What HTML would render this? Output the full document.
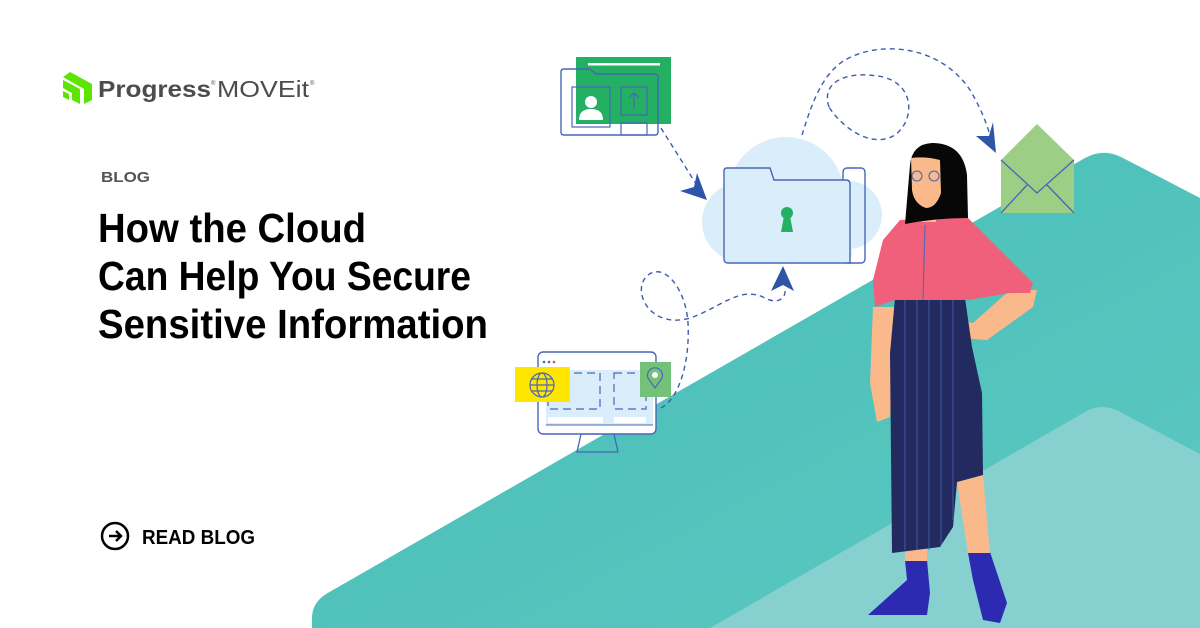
<!DOCTYPE html>
<html><head><meta charset="utf-8"><style>
html,body{margin:0;padding:0;background:#fff;}
svg{display:block;}
</style></head><body>
<svg width="1200" height="628" viewBox="0 0 1200 628" xmlns="http://www.w3.org/2000/svg" font-family="Liberation Sans, sans-serif">
<defs>
<linearGradient id="tg" x1="0" y1="0" x2="1" y2="1">
<stop offset="0" stop-color="#43bdb5"/><stop offset="1" stop-color="#5ec8c2"/>
</linearGradient>
</defs>
<rect width="1200" height="628" fill="#fff"/>
<path d="M312,628 L312,618 Q312,603 326,594 L1085,158 Q1103,148 1121,157 L1200,198 L1200,628 Z" fill="url(#tg)"/>
<path d="M710,628 L1085,412 Q1102,402 1120,412 L1200,454 L1200,628 Z" fill="#86d1d0"/>
<g fill="#5ce500">
<polygon points="70,72 92,84 92,100 84,104 84,89 63,77"/>
<polygon points="63,80 80,89 80,104 72,100 72,93 63,88"/>
<polygon points="63,91 69,94 69,100 63,97"/>
</g>
<text x="98" y="97" font-size="23" font-weight="bold" fill="#4c4c4e" textLength="113" lengthAdjust="spacingAndGlyphs">Progress</text>
<text x="211" y="85" font-size="6" fill="#4c4c4e">®</text>
<text x="217" y="97" font-size="23" fill="#4c4c4e" textLength="92" lengthAdjust="spacingAndGlyphs">MOVEit</text>
<text x="310" y="85" font-size="6" fill="#4c4c4e">®</text>
<text x="101" y="182" font-size="15" font-weight="bold" fill="#555" textLength="49" lengthAdjust="spacingAndGlyphs">BLOG</text>
<g font-size="41" font-weight="bold" fill="#000">
<text x="98" y="242" textLength="268" lengthAdjust="spacingAndGlyphs">How the Cloud</text>
<text x="98" y="290" textLength="373" lengthAdjust="spacingAndGlyphs">Can Help You Secure</text>
<text x="98" y="338" textLength="390" lengthAdjust="spacingAndGlyphs">Sensitive Information</text>
</g>
<circle cx="115" cy="536" r="13" fill="none" stroke="#000" stroke-width="2.5"/>
<path d="M109,536 H120 M116,531 L121,536 L116,541" fill="none" stroke="#000" stroke-width="2.5"/>
<text x="142" y="544" font-size="20" font-weight="bold" fill="#000" textLength="113" lengthAdjust="spacingAndGlyphs">READ BLOG</text>

<g fill="none" stroke="#3d5cb0" stroke-width="1.4" stroke-dasharray="5,4">
<path d="M661,128 L703,195"/>
<path d="M661,408 C680,398 690,360 688,323 C686,290 665,262 648,275 C630,290 650,330 690,318 C720,308 740,285 765,298 C778,305 786,298 785,290"/>
<path d="M802,135 C810,110 820,75 845,60 C880,40 940,45 970,90 C985,115 990,135 994,148"/>
<path d="M829,107 C820,80 850,70 883,77 C915,85 915,120 895,135 C870,150 840,125 829,107"/>
</g>
<g fill="#2f55a8">
<polygon points="707,200 680,191 694,187 697,173"/>
<polygon points="783,266 771,291 783,285 794,291"/>
<polygon points="996,153 976,136 989,136 993,122"/>
</g>

<rect x="576" y="57" width="95" height="67" fill="#23b063"/>
<rect x="588" y="63" width="72" height="2.5" fill="#fff"/>
<path d="M561,72 Q561,69 564,69 H590 L596,74 H655 Q658,74 658,77 V132 Q658,135 655,135 H564 Q561,135 561,132 Z" fill="none" stroke="#4866b8" stroke-width="1.4"/>
<rect x="572" y="87" width="38" height="40" fill="none" stroke="#4866b8" stroke-width="1.2"/>
<circle cx="591" cy="102" r="6" fill="#fff"/>
<path d="M579,120 Q579,109 591,109 Q603,109 603,120 Z" fill="#fff"/>
<rect x="621" y="87" width="26" height="28" fill="none" stroke="#4866b8" stroke-width="1.2"/>
<path d="M634,109 V93 M629,98 L634,93 L639,98" fill="none" stroke="#4866b8" stroke-width="1.2"/>
<rect x="621" y="123" width="26" height="12" fill="none" stroke="#4866b8" stroke-width="1.2"/>

<g fill="#d9eefa">
<circle cx="786" cy="195" r="58"/>
<circle cx="742" cy="222" r="40"/>
<circle cx="848" cy="215" r="34"/>
<rect x="742" y="215" width="110" height="42"/>
</g>
<rect x="843" y="168" width="22" height="95" rx="4" fill="none" stroke="#4866b8" stroke-width="1.4"/>
<path d="M727,168 H770 L774,180 H846 Q850,180 850,184 V263 H728 Q724,263 724,259 V171 Q724,168 727,168 Z" fill="#d9eefa" stroke="#4866b8" stroke-width="1.4"/>
<circle cx="787" cy="213" r="6" fill="#23b063"/>
<polygon points="784,216 790,216 793,232 781,232" fill="#23b063"/>

<polygon points="1001,160 1037,124 1074,160 1074,213 1001,213" fill="#9dce85"/>
<path d="M1001,160 L1037,193 L1074,160 M1001,213 L1027,185 M1074,213 L1047,185" fill="none" stroke="#4866b8" stroke-width="1.3"/>

<polygon points="581,434 614,434 618,452 577,452" fill="none" stroke="#4866b8" stroke-width="1.3"/>
<rect x="538" y="352" width="118" height="82" rx="5" fill="#fff" stroke="#4866b8" stroke-width="1.4"/>
<rect x="546" y="370" width="107" height="55" fill="#d9eefa"/>
<rect x="548" y="417" width="55" height="6" fill="#fff"/><rect x="614" y="417" width="32" height="6" fill="#fff"/>
<path d="M546,425 H653" stroke="#4866b8" stroke-width="1"/>
<g fill="none" stroke="#4866b8" stroke-width="1.2" stroke-dasharray="8,5"><rect x="548" y="373" width="52" height="36"/><rect x="614" y="373" width="32" height="36"/></g>
<circle cx="544" cy="362" r="1.3" fill="#4866b8"/><circle cx="549" cy="362" r="1.3" fill="#4866b8"/><circle cx="554" cy="362" r="1.3" fill="#e0503a"/>
<rect x="515" y="367" width="55" height="35" fill="#ffe600"/>
<g fill="none" stroke="#4866b8" stroke-width="1.2"><circle cx="542" cy="385" r="12"/><ellipse cx="542" cy="385" rx="5" ry="12"/><path d="M530,385 H554 M532,379 H552 M532,391 H552"/></g>
<rect x="640" y="362" width="31" height="35" fill="#74c27a"/>
<path d="M655,388 L648,378 A7.5,7.5 0 1 1 662,378 Z" fill="none" stroke="#4866b8" stroke-width="1.2"/>
<circle cx="655" cy="375" r="3" fill="#fff"/>

<g>
<polygon points="905,560 927,560 930,593 927,615 868,615 907,580" fill="#2b2ab0"/>
<polygon points="968,553 990,552 1007,603 1000,623 983,620 973,580" fill="#2b2ab0"/>
<rect x="905" y="545" width="22" height="16" fill="#f9b98a"/>
<polygon points="957,482 983,475 990,553 968,553" fill="#f9b98a"/>
<polygon points="873,307 895,307 890,417 877,422 870,383" fill="#f9b98a"/>
<polygon points="1010,290 1037,290 1033,307 987,340 947,337 943,328 960,320 973,323" fill="#f9b98a"/>
<polygon points="895,298 965,298 972,347 982,393 983,475 957,482 953,527 940,547 892,553 890,353" fill="#222a60"/>
<g stroke="#4866b8" stroke-width="0.8"><path d="M905,300 V550 M917,300 V550 M929,300 V550 M941,300 V545 M953,300 V520"/></g>
<polygon points="900,220 967,217 1033,283 1030,293 1010,293 968,300 895,300 875,307 873,280 883,240" fill="#f0607a"/>
<path d="M925,225 L923,300" stroke="#4866b8" stroke-width="1"/>
<rect x="922" y="200" width="14" height="22" fill="#f9b98a"/>
<path d="M932,143 Q912,144 910,165 L905,224 Q935,218 968,218 L967,175 Q963,143 932,143 Z" fill="#070707"/>
<path d="M911,158 Q925,156 940,160 L941,193 Q936,208 926,208 Q914,204 912,190 Z" fill="#f9b98a"/>
<g fill="none" stroke="#4866b8" stroke-width="1.1"><circle cx="917" cy="176" r="5"/><circle cx="934" cy="176" r="5"/></g>
</g>
</svg>
</body></html>
